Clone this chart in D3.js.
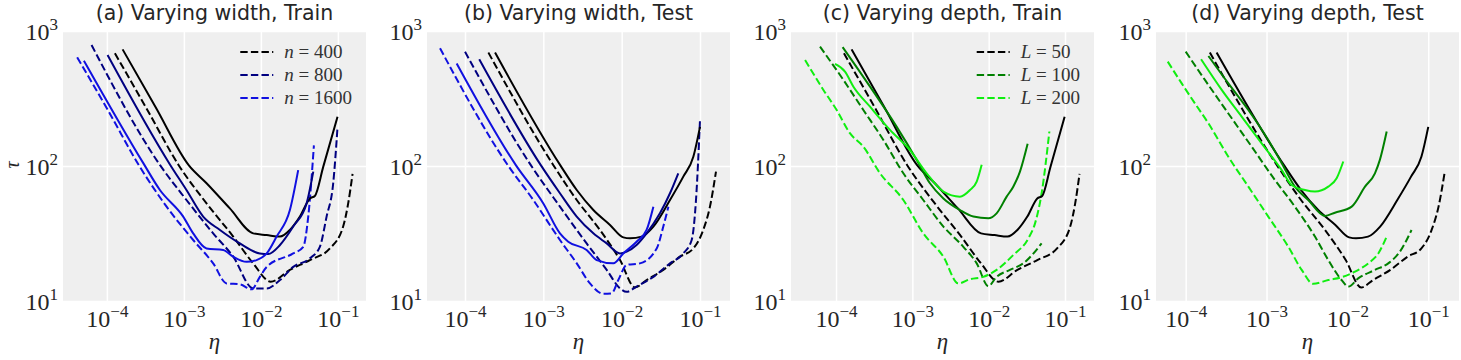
<!DOCTYPE html>
<html>
<head>
<meta charset="utf-8">
<script src="https://cdn.jsdelivr.net/npm/d3@7"></script>
<style>
  html, body { margin: 0; padding: 0; background: #fff; }
</style>
</head>
<body>
<div id="chart"></div>
<script>
// ---- data: [eta, tau] pairs ----
// baseline config (n = 400 / L = 50), shared by width and depth panels
const trainBaseDash = [[1.27e-4,684],[3.27e-4,267],[8.6e-4,101],[1.97e-3,52.8],[4.37e-3,30.0],[7.94e-3,19.0],[1.34e-2,13.9],[2.38e-2,17.0],[4.33e-2,20.1],[7.87e-2,24.5],[0.117,35.6],[0.136,52.8],[0.155,87.3]];
const trainBaseSolid = [[1.6e-4,731],[4.3e-4,272],[1.16e-3,101],[1.97e-3,74.5],[3.95e-3,48.5],[7.94e-3,31.7],[1.19e-2,30.8],[1.77e-2,30.0],[2.38e-2,33.6],[3.21e-2,42.2],[4.33e-2,57.5],[5.02e-2,60],[6.46e-2,98.9],[9.9e-2,232]];
const testBaseDash = [[1.99e-4,692],[1.35e-3,101],[2.67e-3,56],[5.28e-3,33.6],[9.53e-3,20.1],[1.48e-2,12.6],[2.08e-2,14.3],[3.4e-2,17.0],[5.56e-2,21.3],[8.22e-2,24.5],[0.110,33.6],[0.134,50],[0.160,90.8]];
const testBaseSolid = [[2.42e-4,692],[1.65e-3,101],[2.67e-3,66.4],[4.35e-3,47.2],[7.1e-3,36.6],[1.05e-2,29.6],[1.28e-2,29.1],[1.8e-2,30.0],[2.54e-2,35.6],[4.14e-2,56],[6.12e-2,83.4],[8.22e-2,117],[0.1,195]];

// varying width
const trainN800Dash = [[6.32e-5,787],[4.93e-4,101],[1.08e-3,56],[2.40e-3,31.7],[4.37e-3,21.3],[7.94e-3,12.4],[1.19e-2,12.4],[1.77e-2,14.3],[2.63e-2,17.9],[4.33e-2,20.7],[5.83e-2,25.2],[7.13e-2,42.2],[8.69e-2,74.5],[9.9e-2,195]];
const trainN800Solid = [[1.02e-4,664],[6.71e-4,101],[1.08e-3,66.4],[1.78e-3,42.2],[2.94e-3,33.6],[5.34e-3,26.7],[9.7e-3,22.5],[1.245e-2,22.3],[1.77e-2,26.0],[2.63e-2,35.6],[3.92e-2,52.8],[4.79e-2,90.8]];
const trainN1600Dash = [[4.12e-5,638],[1.09e-4,245],[2.61e-4,101],[5.96e-4,50],[1.32e-3,28.3],[2.40e-3,19.0],[3.58e-3,13.5],[5.34e-3,13.3],[7.56e-3,12.2],[9.7e-3,15.1],[1.19e-2,17.9],[2.63e-2,22.5],[3.55e-2,25.2],[4.12e-2,42.2],[4.88e-2,142]];
const trainN1600Solid = [[5.03e-5,603],[2.97e-4,105],[4.88e-4,66.4],[9.8e-4,42.2],[1.32e-3,31.7],[1.97e-3,24.5],[3.24e-3,23.9],[4.37e-3,21.3],[6.52e-3,19.5],[8.79e-3,20.1],[1.19e-2,22.5],[1.6e-2,30.0],[2.38e-2,47.2],[3.05e-2,93.3]];
const testN800Dash = [[1.0e-4,703],[6.96e-4,101],[1.63e-3,50],[3.57e-3,26.7],[6.44e-3,17.0],[9.53e-3,12.4],[1.16e-2,11.7],[1.55e-2,12.8],[2.54e-2,15.1],[4.14e-2,19.0],[6.12e-2,22.5],[7.83e-2,28.3],[8.89e-2,56],[0.1,219]];
const testN800Solid = [[1.52e-4,617],[9.33e-4,101],[1.63e-3,62.8],[2.67e-3,42.2],[4.35e-3,31.7],[6.44e-3,26.7],[9.53e-3,22.5],[1.16e-2,23.2],[1.55e-2,26.0],[2.08e-2,31.7],[3.08e-2,44.6],[4.14e-2,62.8],[5.28e-2,88.3]];
const testN1600Dash = [[4.80e-5,745],[3.54e-4,101],[7.45e-4,56],[1.63e-3,28.3],[2.67e-3,19.0],[3.94e-3,13.5],[5.84e-3,11.3],[7.45e-3,11.4],[9.06e-3,14.3],[1.16e-2,18.5],[1.71e-2,19.0],[2.8e-2,24.5],[3.4e-2,35.6],[3.95e-2,50]];
const testN1600Solid = [[7.83e-5,575],[4.48e-4,101],[1.0e-3,52.8],[1.63e-3,31.7],[2.08e-3,27.5],[3.57e-3,23.9],[4.80e-3,20.1],[7.83e-3,19.0],[1.05e-2,22.5],[1.55e-2,27.5],[2.08e-2,33.6],[2.54e-2,50]];

// varying depth
const trainL100Dash = [[6.17e-5,765],[1.25e-4,434],[2.28e-4,260],[4.17e-4,156],[7.62e-4,88.3],[1.39e-3,56],[2.55e-3,35.6],[4.66e-3,25.2],[6.97e-3,19.0],[9.9e-3,12.9],[1.27e-2,15.1],[1.9e-2,17.0],[2.84e-2,19.0],[4.94e-2,26.7]];
const trainL100Solid = [[1.22e-4,760],[2.79e-4,387],[6.24e-4,195],[1.14e-3,111],[1.70e-3,74.5],[2.55e-3,57.5],[4.2e-3,47.2],[6.3e-3,42.2],[9.9e-3,41.0],[1.27e-2,44.6],[1.72e-2,59.3],[2.1e-2,70.3],[2.57e-2,90.8],[3.24e-2,146]];
const trainL200Dash = [[3.93e-5,610],[6.83e-5,366],[1.02e-4,260],[1.52e-4,175],[2.28e-4,139],[3.77e-4,88.3],[7.62e-4,56],[1.39e-3,31.7],[2.55e-3,21.3],[4.0e-3,13.5],[5.69e-3,14.5],[8.5e-3,15.1],[1.27e-2,17.0],[2.1e-2,21.9],[3.31e-2,29.1],[4.05e-2,37.6],[4.94e-2,62.8],[6.24e-2,180]];
const trainL200Solid = [[9.7e-5,570],[1.31e-4,500],[1.69e-4,387],[2.79e-4,275],[5.09e-4,185],[9.3e-4,131],[1.54e-3,88.3],[2.55e-3,64.6],[4.2e-3,59.3],[5.69e-3,66.4],[6.97e-3,76.6],[8.1e-3,102]];
const testL100Dash = [[1.0e-4,703],[1.73e-4,434],[3.37e-4,245],[6.55e-4,139],[1.27e-3,78.7],[2.24e-3,50],[3.97e-3,30.0],[5.8e-3,20.1],[8.47e-3,14.3],[1.03e-2,12.8],[1.36e-2,14.7],[2.19e-2,17.0],[3.2e-2,19.0],[4.46e-2,23.2],[6.21e-2,33.6]];
const testL100Solid = [[1.91e-4,653],[3.37e-4,409],[5.96e-4,260],[1.05e-3,156],[1.54e-3,105],[2.24e-3,70.3],[3.28e-3,56],[5.27e-3,42.7],[7.0e-3,45.1],[1.13e-2,50],[1.65e-2,70.3],[2.19e-2,88.3],[2.52e-2,111],[3.06e-2,180]];
const testL200Dash = [[6.0e-5,593],[8.93e-5,409],[1.30e-4,291],[1.91e-4,207],[3.37e-4,117],[5.96e-4,70.3],[1.05e-3,42.2],[1.86e-3,25.2],[2.72e-3,17.0],[3.78e-3,13.4],[5.8e-3,14.3],[8.47e-3,15.0],[1.24e-2,16.5],[1.81e-2,19.0],[2.41e-2,22.5],[3.06e-2,30.0]];
const testL200Solid = [[1.55e-4,617],[2.79e-4,366],[4.92e-4,232],[8.7e-4,147],[1.54e-3,93.3],[2.04e-3,72.3],[2.98e-3,66.4],[3.97e-3,64.6],[5.8e-3,70.3],[7.36e-3,81.1],[8.89e-3,108]];

const titles = ["(a) Varying width, Train", "(b) Varying width, Test", "(c) Varying depth, Train", "(d) Varying depth, Test"];
const widthLabels = ["400", "800", "1600"];
const depthLabels = ["50", "100", "200"];
const xTicks = [1e-4, 1e-3, 1e-2, 1e-1];
const yTicks = [10, 100, 1000];
const xDomains = [[10**-4.57, 10**-0.635], [10**-4.485, 10**-0.617], [10**-4.59, 10**-0.62], [10**-4.367, 10**-0.62]];
const yDomain = [10, 1000];

// ---- layout / style ----
const W = 1461, H = 360;
const panelW = 303, plotTop = 31, plotBottom = 301;
const lefts = [63, 427, 791, 1156];
const black = "#000000", navy = "#000080", blue = "#1010e0", dgreen = "#008000", lime = "#10ee10";
const serif = "'Liberation Serif', 'DejaVu Serif', serif";
const ink = "#262626";

const panels = [
  {series: [[trainBaseDash, black, 1], [trainN800Dash, navy, 1], [trainN1600Dash, blue, 1],
            [trainBaseSolid, black, 0], [trainN800Solid, navy, 0], [trainN1600Solid, blue, 0]],
   legend: {sym: "n", labels: widthLabels, colors: [black, navy, blue]}},
  {series: [[testBaseDash, black, 1], [testN800Dash, navy, 1], [testN1600Dash, blue, 1],
            [testBaseSolid, black, 0], [testN800Solid, navy, 0], [testN1600Solid, blue, 0]]},
  {series: [[trainBaseDash, black, 1], [trainL100Dash, dgreen, 1], [trainL200Dash, lime, 1],
            [trainBaseSolid, black, 0], [trainL100Solid, dgreen, 0], [trainL200Solid, lime, 0]],
   legend: {sym: "L", labels: depthLabels, colors: [black, dgreen, lime]}},
  {series: [[testBaseDash, black, 1], [testL100Dash, dgreen, 1], [testL200Dash, lime, 1],
            [testBaseSolid, black, 0], [testL100Solid, dgreen, 0], [testL200Solid, lime, 0]]}
];

const svg = d3.select("#chart").append("svg").attr("width", W).attr("height", H);

// turn plain tick text into 10^e with a raised exponent
function powLabels(axisG) {
  axisG.selectAll(".tick text").each(function(d) {
    let e = Math.round(Math.log10(d));
    let t = d3.select(this).text(null)
      .style("font-family", serif).style("font-size", "24px").attr("fill", ink);
    t.append("tspan").text("10");
    t.append("tspan").attr("dy", "-10").style("font-size", "17px")
      .text(e < 0 ? "\u2212" + (-e) : e);
  });
}

panels.forEach((p, i) => {
  let left = lefts[i], right = left + panelW;
  let x = d3.scaleLog().domain(xDomains[i]).range([left, right]);
  let y = d3.scaleLog().domain(yDomain).range([plotBottom, plotTop]);
  let g = svg.append("g");

  g.append("rect").attr("x", left).attr("y", plotTop)
    .attr("width", panelW).attr("height", plotBottom - plotTop).attr("fill", "#efefef");

  // grid
  g.append("g").attr("transform", "translate(0," + plotBottom + ")")
    .call(d3.axisBottom(x).tickValues(xTicks).tickSize(-(plotBottom - plotTop)).tickFormat(""))
    .call(s => s.select(".domain").remove())
    .selectAll("line").attr("stroke", "#fff").attr("stroke-width", 1.5);
  g.append("g").attr("transform", "translate(" + left + ",0)")
    .call(d3.axisLeft(y).tickValues(yTicks).tickSize(-panelW).tickFormat(""))
    .call(s => s.select(".domain").remove())
    .selectAll("line").attr("stroke", "#fff").attr("stroke-width", 1.5);

  // lines
  let clipId = "clip" + i;
  svg.append("clipPath").attr("id", clipId).append("rect")
    .attr("x", left).attr("y", plotTop).attr("width", panelW).attr("height", plotBottom - plotTop);
  let line = d3.line().x(d => x(d[0])).y(d => y(d[1])).curve(d3.curveMonotoneX);
  g.append("g").attr("clip-path", "url(#" + clipId + ")")
    .selectAll("path").data(p.series).join("path")
      .attr("d", s => line(s[0]))
      .attr("fill", "none")
      .attr("stroke", s => s[1])
      .attr("stroke-width", 2)
      .attr("stroke-dasharray", s => s[2] ? "7.4,3.2" : null);

  // tick labels
  let xa = g.append("g").attr("transform", "translate(0," + plotBottom + ")")
    .call(d3.axisBottom(x).tickValues(xTicks).tickSize(0).tickPadding(0));
  xa.select(".domain").remove();
  xa.selectAll(".tick text").attr("y", 26).attr("dy", null);
  powLabels(xa);

  let ya = g.append("g").attr("transform", "translate(" + left + ",0)")
    .call(d3.axisLeft(y).tickValues(yTicks).tickSize(0).tickPadding(5));
  ya.select(".domain").remove();
  ya.selectAll(".tick text").attr("dy", "8");
  powLabels(ya);

  // title
  g.append("text").attr("x", (left + right) / 2).attr("y", 20)
    .attr("text-anchor", "middle").style("font-family", "'DejaVu Sans', sans-serif")
    .style("font-size", "20.5px").attr("fill", ink).text(titles[i]);

  // x label
  g.append("text").attr("x", (left + right) / 2).attr("y", 349)
    .attr("text-anchor", "middle").style("font-family", serif).style("font-style", "italic")
    .style("font-size", "23px").attr("fill", ink).text("\u03b7");

  if (i === 0) {
    g.append("text").attr("transform", "translate(19,165) rotate(-90)")
      .attr("text-anchor", "middle").style("font-family", serif).style("font-style", "italic")
      .style("font-size", "20px").attr("fill", ink).text("\u03c4");
  }

  // legend
  if (p.legend) {
    let lg = g.append("g");
    let rows = p.legend.labels.map((lab, k) => ({lab, col: p.legend.colors[k], yy: 52 + k * 23}));
    let texts = lg.selectAll("text").data(rows).join("text")
      .attr("y", d => d.yy + 6)
      .style("font-family", serif).style("font-size", "19px").attr("fill", "#333");
    texts.append("tspan").style("font-style", "italic").text(p.legend.sym);
    texts.append("tspan").text(d => " = " + d.lab);
    let maxW = d3.max(texts.nodes(), n => n.getComputedTextLength());
    let tx = right - 14 - maxW;
    texts.attr("x", tx);
    lg.selectAll("line").data(rows).join("line")
      .attr("x1", tx - 44).attr("x2", tx - 11)
      .attr("y1", d => d.yy).attr("y2", d => d.yy)
      .attr("stroke", d => d.col).attr("stroke-width", 2)
      .attr("stroke-dasharray", "7.4,3.2");
  }
});
</script>
</body>
</html>
